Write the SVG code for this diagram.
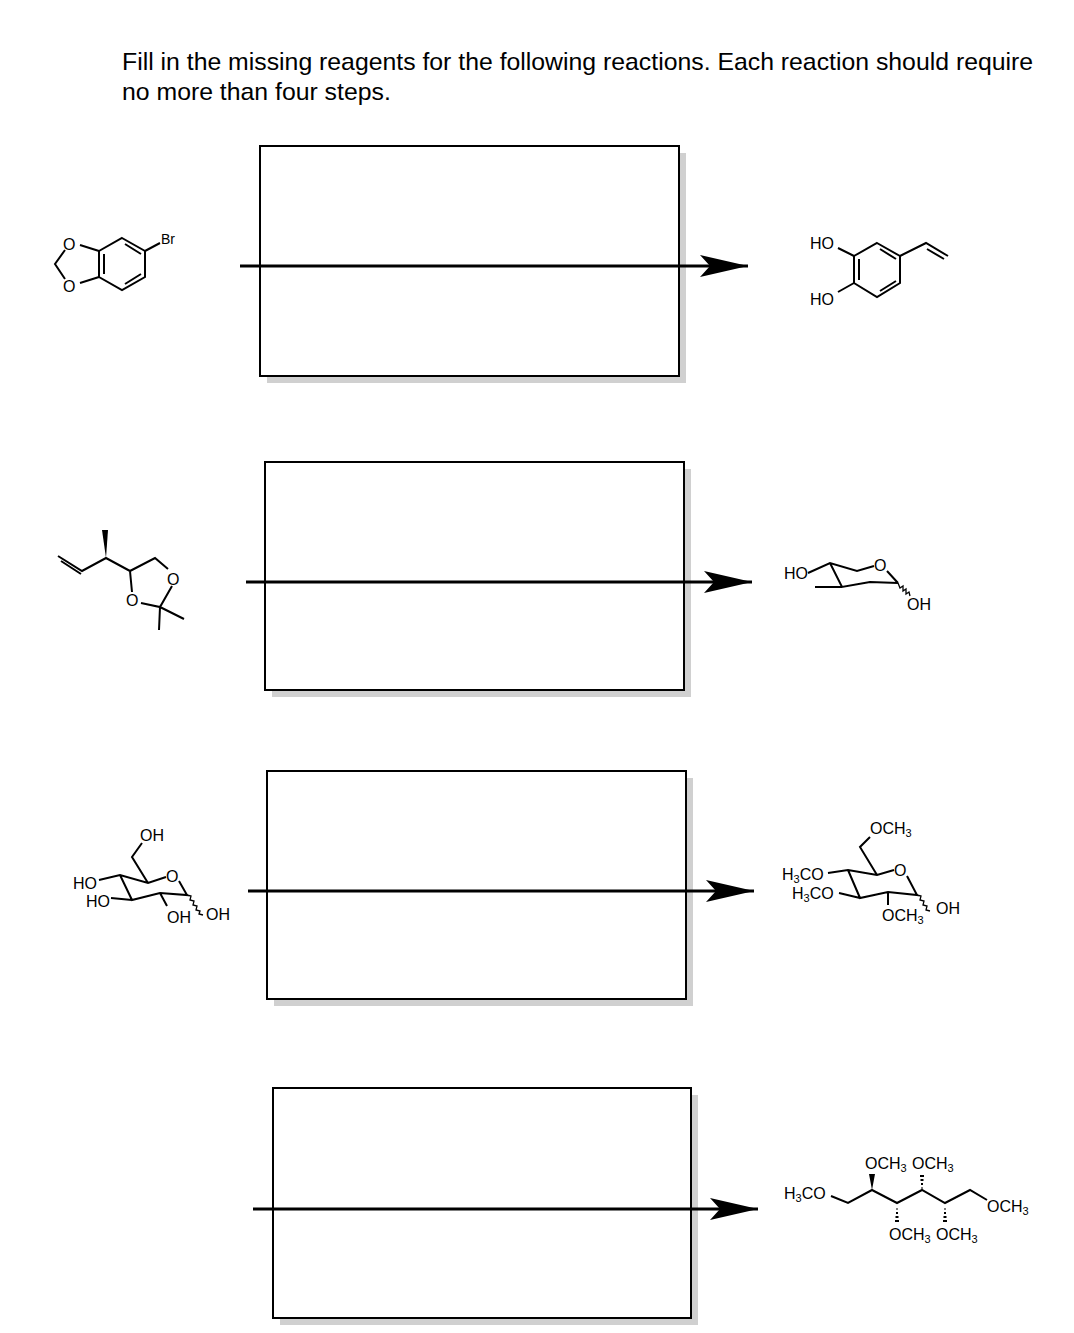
<svg xmlns="http://www.w3.org/2000/svg" width="1074" height="1333" viewBox="0 0 1074 1333">
<style>
.t{font-family:"Liberation Sans",Arial,sans-serif;font-size:24.8px;fill:#000}
.l{font-family:"Liberation Sans",Arial,sans-serif;font-size:16px;fill:#000}
.b{fill:none;stroke:#000;stroke-width:2}
.w{fill:none;stroke:#000;stroke-width:1.3}
.box{fill:#fff;stroke:#000;stroke-width:2}
.sh{fill:#d0d0d0}
.ar{stroke:#000;stroke-width:3}
</style>
<defs>
<marker id="ah" markerWidth="50" markerHeight="24" refX="48" refY="12" markerUnits="userSpaceOnUse" orient="auto">
<path d="M0,1 L48,12 L0,23 L10,12 Z" fill="#000"/>
</marker>
</defs>
<rect width="1074" height="1333" fill="#fff"/>
<text class="t" x="122" y="70">Fill in the missing reagents for the following reactions. Each reaction should require</text>
<text class="t" x="122" y="100">no more than four steps.</text>

<g id="box1"><rect class="sh" x="267" y="153" width="419" height="230"/><rect class="box" x="260" y="146" width="419" height="230"/></g>
<g id="box2"><rect class="sh" x="272" y="469" width="419" height="228"/><rect class="box" x="265" y="462" width="419" height="228"/></g>
<g id="box3"><rect class="sh" x="274" y="778" width="419" height="228"/><rect class="box" x="267" y="771" width="419" height="228"/></g>
<g id="box4"><rect class="sh" x="280" y="1095" width="418" height="230"/><rect class="box" x="273" y="1088" width="418" height="230"/></g>

<g id="connectors">
<line class="ar" x1="240" y1="266" x2="748" y2="266" marker-end="url(#ah)"/>
<line class="ar" x1="246" y1="582" x2="752" y2="582" marker-end="url(#ah)"/>
<line class="ar" x1="248" y1="891" x2="754" y2="891" marker-end="url(#ah)"/>
<line class="ar" x1="253" y1="1209" x2="758" y2="1209" marker-end="url(#ah)"/>
</g>

<g id="mol1">
<path class="b" d="M122,238 L145,251 L145,277 L122,290 L99,277 L99,251 Z"/>
<path class="b" d="M104,254 L104,274 M125,244 L141,254 M141,274 L125,284"/>
<path class="b" d="M145,251 L160,243 M99,251 L80,245 M99,277 L80,283 M65,250 L55,264 L65,279"/>
<text class="l" x="63" y="250">O</text>
<text class="l" x="63" y="292">O</text>
<text class="l" x="161" y="244" style="font-size:14px">Br</text>
</g>

<g id="mol2">
<path class="b" d="M877,243 L900,256 L900,283 L877,297 L854,283 L854,256 Z"/>
<path class="b" d="M859,259 L859,280 M880,291 L896,281 M880,249 L896,259"/>
<path class="b" d="M854,256 L838,248 M854,283 L838,292 M900,256 L926,243 L948,256 M927,249 L944,259"/>
<text class="l" x="810" y="249">HO</text>
<text class="l" x="810" y="305">HO</text>
</g>

<g id="mol3">
<path class="b" d="M58,556 L82,571 L106,558 L130,571 L155,558 L168,569 M130,571 L132,592 M141,603 L160,607 L172,586 M160,607 L184,619 M160,607 L159,630 M61,561 L81,574"/>
<path d="M106,558 L102,530 L108,530 Z" fill="#000"/>
<text class="l" x="167" y="585">O</text>
<text class="l" x="126" y="606">O</text>
</g>

<g id="mol4">
<path class="b" d="M808,573 L830,563 L857,571 L874,566 M887,571 L898,583 M830,563 L842,587 L870,582 L898,583 M842,587 L815,587"/>
<path class="w" d="M898,583 l2,5 l3,-2 l0,5 l3,-2 l0,5 l3,-2 l1,4"/>
<text class="l" x="784" y="579">HO</text>
<text class="l" x="874" y="571">O</text>
<text class="l" x="907" y="610">OH</text>
</g>

<g id="mol5">
<path class="b" d="M99,880 L120,875 L148,883 L166,877 M179,881 L187,895 L160,893 L132,900 L120,875 M111,898 L132,900 M148,883 L132,857 L142,843 M160,893 L167,906"/>
<path class="w" d="M187,895 l4,1 l-1,4 l4,1 l-1,4 l4,1 l-1,4 l4,1 l-1,3 l4,1"/>
<text class="l" x="140" y="841">OH</text>
<text class="l" x="73" y="889">HO</text>
<text class="l" x="86" y="907">HO</text>
<text class="l" x="166" y="882">O</text>
<text class="l" x="167" y="923">OH</text>
<text class="l" x="206" y="920">OH</text>
</g>

<g id="mol6">
<path class="b" d="M828,873 L848,870 L877,875 L894,870 M907,876 L917,895 L888,892 L860,898 L848,870 M839,893 L860,898 M877,875 L860,847 L870,837 M888,892 L888,905"/>
<path class="w" d="M917,895 l4,1 l-1,4 l4,1 l-1,4 l4,1 l-1,4 l4,1"/>
<text class="l" x="870" y="834">OCH<tspan font-size="11" dy="3">3</tspan></text>
<text class="l" x="894" y="876">O</text>
<text class="l" x="782" y="880">H<tspan font-size="11" dy="3">3</tspan><tspan dy="-3">CO</tspan></text>
<text class="l" x="792" y="899">H<tspan font-size="11" dy="3">3</tspan><tspan dy="-3">CO</tspan></text>
<text class="l" x="882" y="921">OCH<tspan font-size="11" dy="3">3</tspan></text>
<text class="l" x="936" y="914">OH</text>
</g>

<g id="mol7">
<path class="b" d="M831,1196 L848,1203 L872,1190 L897,1203 L922,1190 L945,1203 L970,1190 L987,1200"/>
<path d="M872,1190 L869,1174 L875,1174 Z" fill="#000"/>
<path class="b" stroke-width="1.5" d="M920,1176 h4 M920.5,1180 h3 M921,1184 h2 M921.5,1188 h1 M895,1221 h4 M895.5,1217 h3 M896,1213 h2 M896.5,1209 h1 M943,1221 h4 M943.5,1217 h3 M944,1213 h2 M944.5,1209 h1"/>
<text class="l" x="784" y="1199">H<tspan font-size="11" dy="3">3</tspan><tspan dy="-3">CO</tspan></text>
<text class="l" x="865" y="1169">OCH<tspan font-size="11" dy="3">3</tspan></text>
<text class="l" x="912" y="1169">OCH<tspan font-size="11" dy="3">3</tspan></text>
<text class="l" x="889" y="1240">OCH<tspan font-size="11" dy="3">3</tspan></text>
<text class="l" x="936" y="1240">OCH<tspan font-size="11" dy="3">3</tspan></text>
<text class="l" x="987" y="1212">OCH<tspan font-size="11" dy="3">3</tspan></text>
</g>
</svg>
